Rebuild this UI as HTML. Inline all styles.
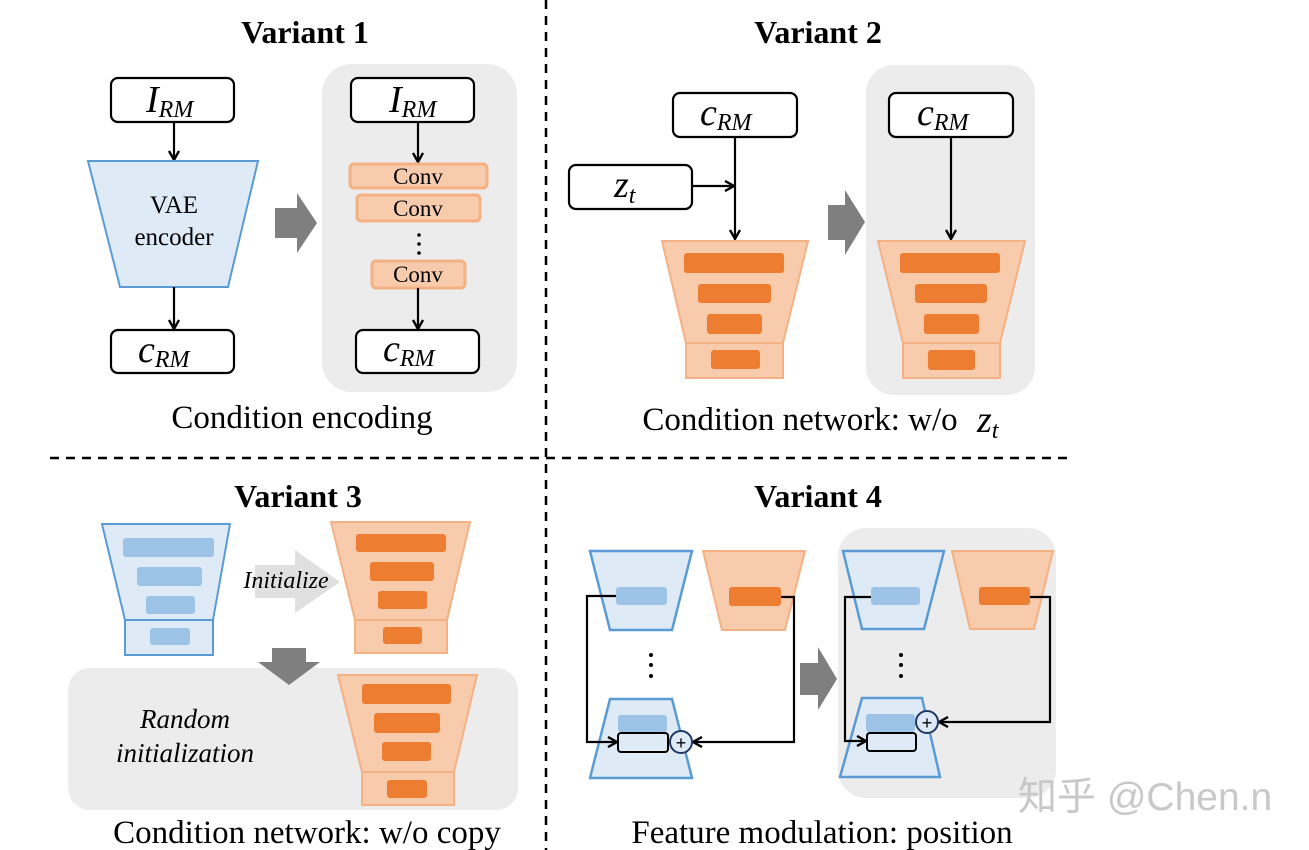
<!DOCTYPE html>
<html><head><meta charset="utf-8"><style>
html,body{margin:0;padding:0;background:#fff;}
svg{display:block;}
.t{font-family:"Liberation Serif",serif;font-weight:bold;font-size:32px;text-anchor:middle;}
.c{font-family:"Liberation Serif",serif;font-size:33px;text-anchor:middle;}
.m{font-family:"Liberation Serif",serif;font-style:italic;font-size:38px;}
.s{font-size:24px;}
.cv{font-family:"Liberation Serif",serif;font-size:23px;text-anchor:middle;}
.it{font-family:"Liberation Serif",serif;font-style:italic;font-size:27px;text-anchor:middle;}
.box{fill:#fff;stroke:#000;stroke-width:2.2;}
.ln{stroke:#000;stroke-width:2.2;fill:none;}
.ob{fill:#ed7d31;}
.bb{fill:#9dc3e6;}
.ot{fill:#f8cbad;stroke:#f4b183;stroke-width:2;}
.bt{fill:#deebf7;stroke:#5b9bd5;stroke-width:2.5;}
</style></head><body>
<svg width="1309" height="850" viewBox="0 0 1309 850" xmlns="http://www.w3.org/2000/svg">
<defs>
<marker id="a" markerWidth="12" markerHeight="12" refX="10" refY="6" orient="auto" markerUnits="userSpaceOnUse"><path d="M1,1 L10,6 L1,11" fill="none" stroke="#000" stroke-width="2.4"/></marker>
</defs>
<line x1="546" y1="0" x2="546" y2="850" stroke="#000" stroke-width="2.5" stroke-dasharray="9,7"/>
<line x1="50" y1="458" x2="1070" y2="458" stroke="#000" stroke-width="2.5" stroke-dasharray="9,7"/>

<!-- Variant 1 -->
<text class="t" x="305" y="43">Variant 1</text>
<rect x="322" y="64" width="195" height="328" rx="30" fill="#ececec"/>
<rect class="box" x="111" y="78" width="123" height="44" rx="7"/>
<text class="m" x="146" y="112">I<tspan class="s" dy="5">RM</tspan></text>
<line class="ln" x1="174" y1="122" x2="174" y2="160" marker-end="url(#a)"/>
<polygon class="bt" points="88,161 258,161 228,287 120,287" style="stroke-width:2"/>
<text class="cv" x="174" y="213" style="font-size:25px">VAE</text>
<text class="cv" x="174" y="245" style="font-size:25px">encoder</text>
<line class="ln" x1="174" y1="287" x2="174" y2="329" marker-end="url(#a)"/>
<rect class="box" x="111" y="330" width="123" height="43" rx="7"/>
<text class="m" x="138" y="362">c<tspan class="s" dy="5">RM</tspan></text>
<polygon points="275,208 297,208 297,193 317,223 297,253 297,238 275,238" fill="#7f7f7f"/>
<rect class="box" x="351" y="78" width="123" height="44" rx="7"/>
<text class="m" x="389" y="112">I<tspan class="s" dy="5">RM</tspan></text>
<line class="ln" x1="418" y1="122" x2="418" y2="162" marker-end="url(#a)"/>
<rect x="350" y="164" width="137" height="24" rx="4" fill="#f8cbad" stroke="#f4b183" stroke-width="3"/>
<text class="cv" x="418" y="184">Conv</text>
<rect x="357" y="195" width="123" height="26" rx="4" fill="#f8cbad" stroke="#f4b183" stroke-width="3"/>
<text class="cv" x="418" y="216">Conv</text>
<circle cx="419" cy="235" r="1.8"/><circle cx="419" cy="244" r="1.8"/><circle cx="419" cy="253" r="1.8"/>
<rect x="372" y="261" width="93" height="27" rx="4" fill="#f8cbad" stroke="#f4b183" stroke-width="3"/>
<text class="cv" x="418" y="282">Conv</text>
<line class="ln" x1="418" y1="288" x2="418" y2="329" marker-end="url(#a)"/>
<rect class="box" x="356" y="330" width="123" height="43" rx="7"/>
<text class="m" x="383" y="361">c<tspan class="s" dy="5">RM</tspan></text>
<text class="c" x="302" y="428">Condition encoding</text>

<!-- Variant 2 -->
<text class="t" x="818" y="43">Variant 2</text>
<rect x="866" y="65" width="169" height="330" rx="28" fill="#ececec"/>
<rect class="box" x="673" y="93" width="124" height="44" rx="7"/>
<text class="m" x="700" y="125">c<tspan class="s" dy="5">RM</tspan></text>
<rect class="box" x="569" y="165" width="123" height="44" rx="7"/>
<text class="m" x="614" y="197">z<tspan class="s" dy="6">t</tspan></text>
<line class="ln" x1="692" y1="186" x2="734" y2="186" marker-end="url(#a)"/>
<line class="ln" x1="735" y1="137" x2="735" y2="239" marker-end="url(#a)"/>
<polygon class="ot" points="662,241 808,241 783,343 686,343"/>
<rect class="ot" x="686" y="343" width="97" height="35"/>
<rect class="ob" x="684" y="253" width="100" height="20" rx="3"/>
<rect class="ob" x="698" y="284" width="73" height="19" rx="3"/>
<rect class="ob" x="707" y="314" width="55" height="20" rx="3"/>
<rect class="ob" x="711" y="350" width="49" height="19" rx="3"/>
<polygon points="828,205 845,205 845,190 865,222 845,255 845,240 828,240" fill="#7f7f7f"/>
<rect class="box" x="889" y="93" width="124" height="44" rx="7"/>
<text class="m" x="917" y="125">c<tspan class="s" dy="5">RM</tspan></text>
<line class="ln" x1="951" y1="137" x2="951" y2="239" marker-end="url(#a)"/>
<polygon class="ot" points="878,241 1025,241 1000,343 903,343"/>
<rect class="ot" x="903" y="343" width="97" height="35"/>
<rect class="ob" x="900" y="253" width="100" height="20" rx="3"/>
<rect class="ob" x="915" y="284" width="72" height="19" rx="3"/>
<rect class="ob" x="924" y="314" width="55" height="20" rx="3"/>
<rect class="ob" x="928" y="350" width="47" height="20" rx="3"/>
<text class="c" x="800" y="430">Condition network: w/o</text>
<text class="m" x="977" y="432">z<tspan class="s" dy="6">t</tspan></text>

<!-- Variant 3 -->
<text class="t" x="298" y="507">Variant 3</text>
<rect x="68" y="668" width="450" height="142" rx="22" fill="#ececec"/>
<polygon class="bt" points="102,524 230,524 213,620 125,620" style="stroke-width:2"/>
<rect class="bt" x="125" y="620" width="88" height="35" style="stroke-width:2"/>
<rect class="bb" x="123" y="538" width="91" height="19" rx="3"/>
<rect class="bb" x="137" y="567" width="65" height="19" rx="3"/>
<rect class="bb" x="146" y="596" width="49" height="18" rx="3"/>
<rect class="bb" x="150" y="628" width="40" height="17" rx="3"/>
<polygon points="255,565 295,565 295,550 340,582 295,613 295,598 255,598" fill="#e0e0e0"/>
<text class="it" x="286" y="588" style="font-size:24px">Initialize</text>
<polygon class="ot" points="331,522 470,522 447,620 355,620"/>
<rect class="ot" x="355" y="620" width="92" height="33"/>
<rect class="ob" x="356" y="534" width="90" height="18" rx="3"/>
<rect class="ob" x="370" y="562" width="64" height="19" rx="3"/>
<rect class="ob" x="378" y="591" width="49" height="18" rx="3"/>
<rect class="ob" x="383" y="627" width="39" height="17" rx="3"/>
<polygon points="272,648 306,648 306,662 320,662 289,685 258,662 272,662" fill="#7f7f7f"/>
<text class="it" x="185" y="728">Random</text>
<text class="it" x="185" y="762">initialization</text>
<polygon class="ot" points="338,675 477,675 454,772 362,772"/>
<rect class="ot" x="362" y="772" width="92" height="33"/>
<rect class="ob" x="362" y="684" width="89" height="20" rx="3"/>
<rect class="ob" x="374" y="713" width="66" height="20" rx="3"/>
<rect class="ob" x="382" y="742" width="49" height="19" rx="3"/>
<rect class="ob" x="387" y="780" width="40" height="18" rx="3"/>
<text class="c" x="307" y="843">Condition network: w/o copy</text>

<!-- Variant 4 -->
<text class="t" x="818" y="507">Variant 4</text>
<rect x="838" y="528" width="218" height="270" rx="28" fill="#ececec"/>
<polygon class="bt" points="590,551 692,551 672,630 610,630"/>
<rect class="bb" x="616" y="587" width="51" height="18" rx="3"/>
<polygon class="ot" points="703,551 805,551 785,630 722,630"/>
<rect class="ob" x="729" y="587" width="52" height="19" rx="3"/>
<circle cx="651" cy="655" r="2"/><circle cx="651" cy="665" r="2"/><circle cx="651" cy="676" r="2"/>
<polygon class="bt" points="610,699 672,699 692,778 590,778"/>
<rect class="bb" x="618" y="715" width="49" height="17" rx="3"/>
<rect x="618" y="733" width="50" height="19" rx="3" fill="#deebf7" stroke="#000" stroke-width="2"/>
<polyline class="ln" points="616,596 587,596 587,742 617,742" marker-end="url(#a)"/>
<polyline class="ln" points="781,597 794,597 794,742 693,742" marker-end="url(#a)"/>
<circle cx="681" cy="742" r="11" fill="#deebf7" stroke="#1f3864" stroke-width="2"/>
<text x="681" y="749" font-family="Liberation Sans,sans-serif" font-size="18" text-anchor="middle">+</text>
<polygon points="800,663 818,663 818,647 837,679 818,710 818,695 800,695" fill="#7f7f7f"/>
<polygon class="bt" points="843,551 944,551 924,629 862,629"/>
<rect class="bb" x="871" y="587" width="49" height="18" rx="3"/>
<polygon class="ot" points="952,551 1053,551 1034,629 970,629"/>
<rect class="ob" x="979" y="587" width="51" height="18" rx="3"/>
<circle cx="901" cy="655" r="2"/><circle cx="901" cy="665" r="2"/><circle cx="901" cy="676" r="2"/>
<polygon class="bt" points="862,698 922,698 940,777 840,777"/>
<rect class="bb" x="866" y="714" width="49" height="18" rx="3"/>
<rect x="867" y="733" width="49" height="18" rx="3" fill="#deebf7" stroke="#000" stroke-width="2"/>
<polyline class="ln" points="871,597 845,597 845,741 866,741" marker-end="url(#a)"/>
<polyline class="ln" points="1030,597 1050,597 1050,722 939,722" marker-end="url(#a)"/>
<circle cx="927" cy="722" r="11" fill="#deebf7" stroke="#1f3864" stroke-width="2"/>
<text x="927" y="729" font-family="Liberation Sans,sans-serif" font-size="18" text-anchor="middle">+</text>
<text class="c" x="822" y="843">Feature modulation: position</text>

<text x="1018" y="810" font-family="Liberation Sans,'Noto Sans CJK SC',sans-serif" font-size="39" fill="#c8c8c8">知乎 @Chen.n</text>
</svg>
</body></html>
